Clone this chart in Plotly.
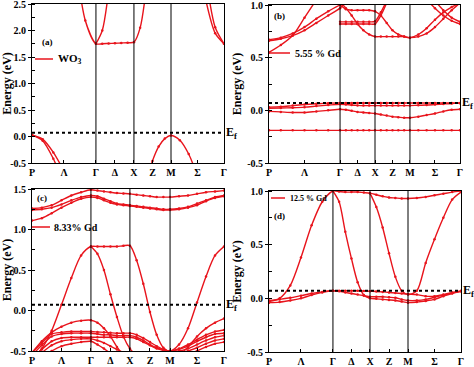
import plotly.graph_objects as go
import numpy as np

# ---------------- data ----------------
kpoint_labels = ["P", "Λ", "Γ", "Δ", "X", "Z", "M", "Σ", "Γ"]

# k-path node positions (P, Γ, X, M, Γ) for each panel (fraction of path length)
nodes_a = [0.0, 0.333, 0.531, 0.724, 1.0]
nodes_b = [0.0, 0.372, 0.555, 0.738, 1.0]
nodes_c = [0.0, 0.307, 0.510, 0.719, 1.0]
nodes_d = [0.0, 0.333, 0.526, 0.724, 1.0]

fermi_a = 0.07
fermi_b = 0.07
fermi_c = 0.07
fermi_d = 0.07

N = None
# Panel (a) WO3: 25 samples, P(0) Γ(6) X(12) M(18) Γ(24)
a_v1 = [0.03, -0.08, -0.42, -0.90, N, N, N, N, N, N, N, N, N, N, N, N, N, N, N, N, N, N, N, N, N]
a_v2 = [0.03, -0.05, -0.30, -0.65, N, N, N, N, N, N, N, N, N, N, N, N, N, N, N, N, N, N, N, N, N]
a_v3 = [N, N, N, N, N, N, N, N, N, N, N, N, N, N, -0.85, -0.46, -0.19, -0.04, 0.02, -0.07, -0.33, -0.75, N, N, N]
a_c1 = [N, N, N, N, 3.50, 2.19, 1.75, 1.75, 1.755, 1.76, 1.765, 1.77, 1.78, 2.05, 2.80, N, N, N, N, N, N, N, 2.53, 1.95, 1.75]
a_c2 = [N, N, N, N, N, N, 1.75, 2.00, 2.74, N, N, N, N, N, N, N, N, N, N, N, N, N, 2.95, 2.06, 1.75]
bands_a = [a_v1, a_v2, a_v3, a_c1, a_c2]

# Panel (b) 5.55 % Gd
b_flat = [-0.19, -0.19, -0.19, -0.19, -0.19, -0.19, -0.19, -0.19, -0.19, -0.19, -0.19, -0.19, -0.19,
          -0.19, -0.19, -0.19, -0.19, -0.19, -0.19, -0.19, -0.19, -0.19, -0.19, -0.19, -0.19]
b_v1 = [-0.01, -0.015, -0.02, -0.02, -0.01, 0.0, 0.01, 0.005, -0.005, -0.015, -0.02, -0.025, -0.03,
        -0.04, -0.05, -0.06, -0.065, -0.07, -0.07, -0.06, -0.045, -0.03, -0.01, 0.005, 0.01]
b_v2 = [0.02, 0.022, 0.025, 0.03, 0.04, 0.05, 0.058, 0.055, 0.05, 0.047, 0.045, 0.045, 0.045,
        0.045, 0.045, 0.045, 0.045, 0.045, 0.045, 0.048, 0.05, 0.055, 0.06, 0.065, 0.068]
b_v3 = [0.03, 0.035, 0.045, 0.055, 0.062, 0.068, 0.07, 0.07, 0.07, 0.07, 0.07, 0.07, 0.07,
        0.07, 0.07, 0.07, 0.07, 0.07, 0.07, 0.07, 0.07, 0.07, 0.07, 0.07, 0.07]
b_u1 = [0.55, 0.62, 0.71, 0.88, 1.05, N, N, N, N, N, N, N, N, N, N, N, N, N, N, N, N, N, N, N, N]
b_u2 = [0.66, 0.68, 0.71, 0.76, 0.83, 0.90, 0.97, 1.03, N, N, N, N, N, N, N, N, N, N, N, N, N, N, N, N, N]
b_u3 = [0.67, 0.69, 0.73, 0.79, 0.87, 0.94, 1.00, N, N, N, N, N, N, N, N, N, N, N, N, N, N, N, N, N, N]
b_u4 = [N, N, N, N, N, N, 0.82, 0.82, 0.82, 0.82, 0.82, 0.82, 0.82,
        0.90, 1.02, N, N, N, N, N, N, N, N, N, N]
b_u5 = [N, N, N, N, N, N, 0.84, 0.84, 0.84, 0.84, 0.84, 0.84, 0.845,
        0.93, 1.04, N, N, N, N, N, N, N, N, N, N]
b_u6 = [N, N, N, N, N, N, 1.00, 0.96, 0.95, 0.95, 0.95, 0.95, 0.94,
        0.90, 0.83, 0.76, 0.72, 0.70, 0.69, 0.72, 0.78, 0.86, 0.93, 0.98, 1.02]
b_u7 = [N, N, N, N, N, N, 1.03, 0.97, 0.90, 0.82, 0.76, 0.72, 0.70,
        0.70, 0.70, 0.70, 0.70, 0.70, 0.69, 0.70, 0.73, 0.79, 0.87, 0.95, 1.02]
b_u8 = [N, N, N, N, N, N, N, N, N, N, N, N, N, N, N, N, N, N, N, N, 1.05, 0.97, 0.90, 0.85, 0.82]
b_u9 = [N, N, N, N, N, N, N, N, N, N, N, N, N, N, N, N, N, N, N, N, N, 1.04, 0.95, 0.88, 0.84]
bands_b = [b_u1, b_u2, b_u3, b_u4, b_u5, b_u6, b_u7, b_u8, b_u9, b_flat, b_v1, b_v2, b_v3]

# Panel (c) 8.33 % Gd
c_t1 = [1.26, 1.27, 1.30, 1.36, 1.42, 1.46, 1.49, 1.48, 1.47, 1.46, 1.45, 1.445, 1.44,
        1.43, 1.42, 1.41, 1.40, 1.40, 1.40, 1.41, 1.42, 1.44, 1.46, 1.47, 1.48]
c_t2 = [1.24, 1.25, 1.27, 1.31, 1.36, 1.40, 1.42, 1.41, 1.38, 1.35, 1.32, 1.31, 1.30,
        1.29, 1.28, 1.27, 1.26, 1.25, 1.25, 1.26, 1.28, 1.32, 1.36, 1.40, 1.42]
c_t3 = [1.11, 1.14, 1.20, 1.27, 1.33, 1.38, 1.40, 1.39, 1.36, 1.33, 1.31, 1.30, 1.29,
        1.28, 1.27, 1.26, 1.25, 1.24, 1.24, 1.25, 1.27, 1.30, 1.35, 1.39, 1.41]
c_d1 = [-0.60, -0.47, -0.25, 0.07, 0.40, 0.68, 0.79, 0.79, 0.79, 0.79, 0.79, 0.80, 0.80,
        0.62, 0.33, -0.02, -0.30, -0.46, -0.50, -0.42, -0.22, 0.10, 0.42, 0.68, 0.79]
c_d2 = [N, N, N, N, N, N, 0.79, 0.70, 0.50, 0.20, -0.08, -0.32, -0.47,
        -0.56, N, N, N, N, N, N, N, N, N, N, N]
c_l1 = [-0.52, -0.38, -0.27, -0.20, -0.15, -0.125, -0.12, -0.15, -0.22, -0.32, -0.45, -0.56, N,
        N, N, N, N, N, -0.62, -0.55, -0.45, -0.32, -0.22, -0.15, -0.10]
c_l2 = [-0.52, -0.40, -0.29, -0.27, -0.26, -0.26, -0.26, -0.265, -0.27, -0.275, -0.28, -0.28, -0.28,
        -0.30, -0.34, -0.39, -0.44, -0.48, -0.50, -0.47, -0.42, -0.36, -0.30, -0.26, -0.24]
c_l3 = [-0.55, -0.43, -0.32, -0.29, -0.28, -0.28, -0.28, -0.29, -0.30, -0.30, -0.31, -0.31, -0.31,
        -0.33, -0.37, -0.42, -0.46, -0.49, -0.50, -0.48, -0.44, -0.38, -0.33, -0.29, -0.28]
c_l4 = [-0.58, -0.48, -0.38, -0.34, -0.33, -0.33, -0.33, -0.33, -0.33, -0.33, -0.33, -0.33, -0.33,
        -0.35, -0.39, -0.43, -0.47, -0.49, -0.50, -0.50, -0.47, -0.42, -0.37, -0.33, -0.31]
c_l5 = [-0.62, -0.52, -0.43, -0.38, -0.36, -0.35, -0.35, -0.37, -0.40, -0.44, -0.48, -0.52, N,
        N, N, N, N, N, -0.55, -0.53, -0.50, -0.46, -0.41, -0.37, -0.35]
c_l6 = [-0.70, -0.58, -0.50, -0.44, -0.41, -0.39, -0.38, -0.42, -0.47, -0.53, N, N, N,
        N, N, N, N, N, -0.60, -0.58, -0.54, -0.50, -0.45, -0.41, -0.39]
bands_c = [c_d1, c_t1, c_t2, c_t3, c_d2, c_l1, c_l2, c_l3, c_l4, c_l5, c_l6]

# Panel (d) 12.5 % Gd
d_e1 = [-0.03, 0.0, 0.12, 0.38, 0.68, 0.90, 1.0, 0.995, 0.99, 0.99, 0.99, 0.985, 0.98,
        0.965, 0.95, 0.94, 0.935, 0.93, 0.93, 0.935, 0.945, 0.96, 0.975, 0.99, 1.0]
d_e2 = [N, N, N, N, N, N, 1.0, 0.90, 0.62, 0.37, 0.15, 0.03, 0.0,
        -0.005, -0.01, -0.015, -0.02, -0.03, -0.04, -0.035, -0.025, -0.01, 0.02, 0.045, 0.065]
d_e3 = [N, N, N, N, N, N, N, N, N, N, N, N, 0.98,
        0.85, 0.66, 0.42, 0.20, 0.07, 0.035, 0.07, 0.33, 0.55, 0.75, 0.92, 0.99]
d_e4 = [-0.02, -0.01, 0.005, 0.025, 0.045, 0.06, 0.07, 0.065, 0.055, 0.045, 0.035, 0.025, 0.015,
        0.015, 0.015, 0.01, 0.005, -0.01, -0.02, -0.02, -0.01, 0.01, 0.03, 0.05, 0.065]
d_e5 = [-0.04, -0.035, -0.02, 0.0, 0.03, 0.055, 0.07, 0.07, 0.07, 0.07, 0.07, 0.068, 0.066,
        0.064, 0.06, 0.055, 0.05, 0.045, 0.04, 0.035, 0.02, 0.02, 0.035, 0.055, 0.07]
bands_d = [d_e1, d_e2, d_e3, d_e4, d_e5]

# ---------------- figure ----------------
RED = "#e8141c"
FONT = "Liberation Serif"
W, H = 474, 367


def kgrid(nodes):
    xs = []
    for i in range(4):
        seg = np.linspace(nodes[i], nodes[i + 1], 7)
        xs.extend(seg[:-1] if i < 3 else seg)
    return xs


def tickpos(nodes):
    out = []
    for i in range(4):
        out.append(nodes[i])
        out.append((nodes[i] + nodes[i + 1]) / 2)
    out.append(nodes[4])
    return out


panels = [
    dict(ax="", bands=bands_a, nodes=nodes_a, ef=fermi_a, yr=[-0.5, 2.5],
         ytv=[-0.5, 0.0, 0.5, 1.0, 1.5, 2.0, 2.5],
         dom_x=[32, 224], dom_y=[4, 163], label="(a)", lab_xy=(47, 42),
         leg="WO<sub>3</sub>", leg_y=59, leg_x=(35, 53), leg_tx=56, leg_size=11),
    dict(ax="2", bands=bands_b, nodes=nodes_b, ef=fermi_b, yr=[-0.5, 1.0],
         ytv=[-0.5, 0.0, 0.5, 1.0],
         dom_x=[269, 460], dom_y=[5, 163], label="(b)", lab_xy=(279, 16),
         leg="5.55 % Gd", leg_y=53, leg_x=(269, 290), leg_tx=293, leg_size=10),
    dict(ax="3", bands=bands_c, nodes=nodes_c, ef=fermi_c, yr=[-0.5, 1.5],
         ytv=[-0.5, 0.0, 0.5, 1.0, 1.5],
         dom_x=[32, 224], dom_y=[189, 351], label="(c)", lab_xy=(42, 198),
         leg="8.33% Gd", leg_y=227, leg_x=(32, 50), leg_tx=52, leg_size=10),
    dict(ax="4", bands=bands_d, nodes=nodes_d, ef=fermi_d, yr=[-0.5, 1.0],
         ytv=[-0.5, 0.0, 0.5, 1.0],
         dom_x=[269, 461], dom_y=[191, 352], label="(d)", lab_xy=(279, 216),
         leg="12.5 % Gd", leg_y=198, leg_x=(271, 285), leg_tx=288, leg_size=8),
]

fig = go.Figure()
shapes = []
annotations = []
layout = {}

for p in panels:
    xa = "x" + p["ax"]
    ya = "y" + p["ax"]
    ks = kgrid(p["nodes"])
    for band in p["bands"]:
        fig.add_trace(go.Scatter(
            x=ks, y=band, xaxis=xa, yaxis=ya, mode="lines+markers",
            line=dict(color=RED, width=1.4, shape="spline", smoothing=0.8),
            marker=dict(color=RED, size=2.5), showlegend=False, hoverinfo="skip"))
    # Fermi level
    fig.add_trace(go.Scatter(
        x=[p["nodes"][0], p["nodes"][-1]], y=[p["ef"], p["ef"]], xaxis=xa, yaxis=ya,
        mode="lines", line=dict(color="black", width=2, dash="dot"),
        showlegend=False, hoverinfo="skip"))
    # vertical lines at Γ, X, M
    for kx in p["nodes"][1:4]:
        shapes.append(dict(type="line", xref=xa, yref=ya + " domain", x0=kx, x1=kx,
                           y0=0, y1=1, line=dict(color="black", width=1)))
    x0, x1 = p["dom_x"]
    yt, yb = p["dom_y"]
    axx = "xaxis" + p["ax"]
    axy = "yaxis" + p["ax"]
    layout[axx] = dict(
        domain=[x0 / W, x1 / W], anchor=ya, range=[p["nodes"][0], p["nodes"][-1]],
        automargin=False, ticklabeloverflow="allow",
        tickmode="array", tickvals=tickpos(p["nodes"]), ticktext=kpoint_labels,
        ticks="inside", ticklen=3, tickcolor="black", showgrid=False, zeroline=False,
        showline=True, linecolor="black", linewidth=1, mirror=True,
        tickfont=dict(family=FONT, size=10, color="black", weight="bold"))
    layout[axy] = dict(
        domain=[1 - yb / H, 1 - yt / H], anchor=xa, range=p["yr"],
        automargin=False, ticklabeloverflow="allow",
        tickmode="array", tickvals=p["ytv"], ticktext=["%.1f" % v for v in p["ytv"]],
        ticks="outside", ticklen=3, tickcolor="black", showgrid=False, zeroline=False,
        showline=True, linecolor="black", linewidth=1, mirror=True,
        minor=dict(dtick=0.25, ticks="inside", ticklen=3, tickcolor="black", showgrid=False),
        tickfont=dict(family=FONT, size=10, color="black", weight="bold"),
        title=dict(text="Energy (eV)", standoff=2,
                   font=dict(family=FONT, size=12, color="black", weight="bold")))
    # Ef label
    annotations.append(dict(xref=xa + " domain", yref=ya, x=1.0, y=p["ef"], xanchor="left",
                            yanchor="middle", xshift=0, showarrow=False, text="E<sub>f</sub>",
                            font=dict(family=FONT, size=12, color="black", weight="bold")))
    # panel label
    lx, ly = p["lab_xy"]
    annotations.append(dict(xref="paper", yref="paper", x=lx / W, y=1 - ly / H,
                            xanchor="center", yanchor="middle", showarrow=False,
                            text=p["label"],
                            font=dict(family=FONT, size=9, color="black", weight="bold")))
    # legend sample
    l0, l1 = p["leg_x"]
    shapes.append(dict(type="line", xref="paper", yref="paper", x0=l0 / W, x1=l1 / W,
                       y0=1 - p["leg_y"] / H, y1=1 - p["leg_y"] / H,
                       line=dict(color=RED, width=1.5)))
    annotations.append(dict(xref="paper", yref="paper", x=p["leg_tx"] / W, y=1 - p["leg_y"] / H,
                            xanchor="left", yanchor="middle", showarrow=False, text=p["leg"],
                            font=dict(family=FONT, size=p["leg_size"], color="black", weight="bold")))

fig.update_layout(
    width=W, height=H, margin=dict(l=0, r=0, t=0, b=0),
    plot_bgcolor="white", paper_bgcolor="white", showlegend=False,
    shapes=shapes, annotations=annotations, **layout)

fig.write_html("out.html", config={"displayModeBar": False, "staticPlot": True},
               post_script="document.body.style.margin='0';document.body.style.padding='0';"
                           "document.body.style.overflow='hidden';")
